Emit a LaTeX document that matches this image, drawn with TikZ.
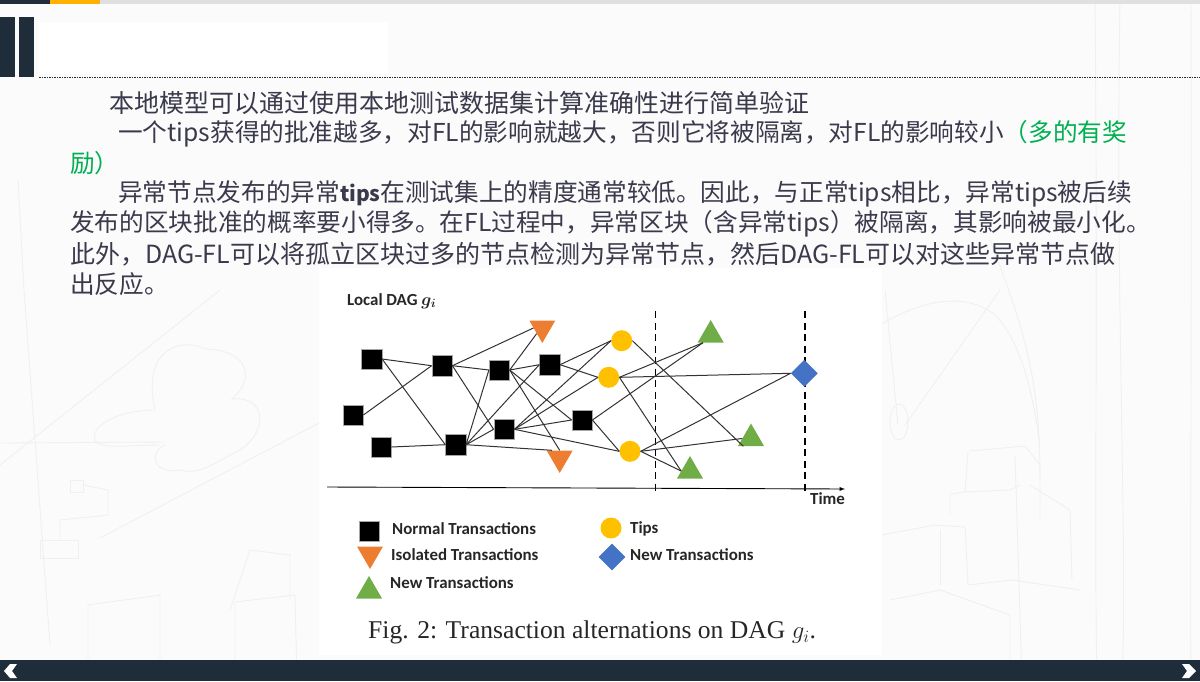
\documentclass[tikz,border=0pt]{standalone}
\usepackage{amsmath}
\usepackage{fontspec}
\setmainfont{Carlito}
\newfontfamily\cjkfont{Noto Sans CJK SC}
\newfontfamily\capfont{Liberation Serif}
\usepackage{tikz}
\usetikzlibrary{calc,arrows.meta,shapes.geometric}
\tikzset{>=latex}
\definecolor{barblue}{HTML}{1F2D3A}
\definecolor{baramber}{HTML}{FFB000}
\definecolor{bodyink}{HTML}{3A3A4C}
\definecolor{rewardgreen}{HTML}{00B050}
\definecolor{isoorange}{HTML}{ED7D31}
\definecolor{tipyellow}{HTML}{FFC000}
\definecolor{newgreen}{HTML}{70AD47}
\definecolor{newblue}{HTML}{4472C4}
\definecolor{sketchgrey}{HTML}{F0F0F0}
\tikzset{
normaltx/.style={rectangle, fill=black, draw=black!35, line width=0.3pt, minimum size=20.5pt, inner sep=0pt},
isotx/.style={regular polygon, regular polygon sides=3, shape border rotate=180, fill=isoorange, minimum size=30pt, inner sep=0pt},
newtx/.style={regular polygon, regular polygon sides=3, fill=newgreen, minimum size=30pt, inner sep=0pt},
tiptx/.style={circle, fill=tipyellow, minimum size=21pt, inner sep=0pt},
bluetx/.style={diamond, fill=newblue, minimum size=27pt, inner sep=0pt},
bodyline/.style={anchor=west, inner sep=0pt, text=bodyink, font=\cjkfont\fontsize{24.65}{28}\selectfont},
legendtext/.style={anchor=west, inner sep=0pt, text=black!85, font=\bfseries\fontsize{16.9}{18}\selectfont},
sketch/.style={draw=sketchgrey, line width=0.9pt, line cap=round},
}
\begin{document}
\begin{tikzpicture}[x=1pt, y=-1pt]
\useasboundingbox (0,0) rectangle (1200,681);
\fill[black!1.5] (0,0) rectangle (1200,681);

% faint sketch behind the slide
\draw[sketch] (18,180) -- (24,290) -- (50,645);
\draw[sketch] (0,443) -- (165,442);
\draw[sketch] (0,465) -- (220,290);
\draw[sketch] (100,538) -- (319,423);
\draw[sketch] (155,410) .. controls (140,340) and (190,340) .. (205,349) .. controls (250,350) and (255,380) .. (232,399) .. controls (265,395) and (270,430) .. (240,450) .. controls (210,465) and (200,475) .. (180,470) .. controls (150,475) and (150,450) .. (165,445);
\draw[sketch] (155,410) .. controls (120,410) and (90,425) .. (95,440) .. controls (100,450) and (130,445) .. (160,445);
\draw[sketch] (70,480) -- (70,492) -- (83,492) -- (83,480) -- cycle;
\draw[sketch] (83,485) -- (108,490) -- (108,515) -- (60,520) -- (60,540);
\draw[sketch] (40,540) -- (78,540) -- (78,558) -- (40,558) -- cycle;
\draw[sketch] (88,681) -- (88,605) -- (160,595) -- (160,681);
\draw[sketch] (235,681) -- (235,602) -- (295,595) -- (297,681);
\draw[sketch] (230,610) -- (250,550) -- (290,555) -- (290,600);
\draw[sketch] (880,325) .. controls (930,295) and (970,295) .. (995,315) .. controls (1025,345) and (1035,410) .. (1040,445);
\draw[sketch] (990,240) .. controls (1025,330) and (1040,380) .. (1040,480);
\draw[sketch] (1000,290) -- (905,425);
\draw[sketch] (885,290) -- (898,425);
\draw[sketch] (899,422) ellipse (9pt and 18pt);
\draw[sketch] (970,451) -- (1025,446) -- (1040,465) -- (1040,520);
\draw[sketch] (968,452) -- (965,492) -- (950,494) -- (950,515);
\draw[sketch] (965,492) -- (1010,490) -- (1020,485);
\draw[sketch] (1030,485) -- (1070,510) -- (1072,580);
\draw[sketch] (882,535) -- (935,525) -- (965,527) -- (968,585) -- (1012,580) -- (1080,590);
\draw[sketch] (940,530) -- (940,585);
\draw[sketch] (1015,455) -- (1022,681);
\draw[sketch] (890,600) -- (940,590) -- (1010,615) -- (1010,681);
\draw[sketch] (1095,0) .. controls (1098,300) and (1094,550) .. (1097,681);
\draw[sketch] (1120,0) .. controls (1115,300) and (1128,550) .. (1122,681);
\draw[sketch] (1191,0) .. controls (1192,300) and (1190,550) .. (1191,681);

% top and bottom bars
\fill[black!12] (0,0) rectangle (1200,3.5);
\fill[barblue] (0,0) rectangle (50,3.5);
\fill[baramber] (50,0) rectangle (100,3.5);
\fill[barblue] (0,17) rectangle (15,77);
\fill[barblue] (19,17) rectangle (34,77);
\fill[white] (39,22) rectangle (388,74);
\draw[barblue, dash pattern=on 1.5pt off 1pt, line width=0.7pt] (39,77.5) -- (1200,77.5);
\fill[barblue] (0,660) rectangle (1200,681);
\fill[white] (17,664) -- (10,664) -- (4,671) -- (10,678) -- (17,678) -- (12,671) -- cycle;
\fill[white] (1182,664) -- (1189,664) -- (1196,671) -- (1189,678) -- (1182,678) -- (1187,671) -- cycle;

% body text
\node[bodyline, font=\cjkfont\fontsize{25}{28}\selectfont] (line1) at (109,103) {本地模型可以通过使用本地测试数据集计算准确性进行简单验证};
\node[bodyline] (line2) at (118,134) {一个tips获得的批准越多，对FL的影响就越大，否则它将被隔离，对FL的影响较小\textcolor{rewardgreen}{（多的有奖}};
\node[bodyline, text=rewardgreen] (line3) at (70,163) {励）};
\node[bodyline] (line4) at (118,194) {异常节点发布的异常{\fontsize{21}{28}\selectfont\textbf{tips}}在测试集上的精度通常较低。因此，与正常tips相比，异常tips被后续};
\node[bodyline] (line5) at (70,224) {发布的区块批准的概率要小得多。在FL过程中，异常区块（含异常tips）被隔离，其影响被最小化。};
\node[bodyline, font=\cjkfont\fontsize{25}{28}\selectfont] (line6) at (70,254) {此外，DAG-FL可以将孤立区块过多的节点检测为异常节点，然后DAG-FL可以对这些异常节点做};
\node[bodyline] (line7) at (70,284) {出反应。};

% the figure
\fill[white] (319,268) rectangle (882,655);
\node[legendtext] (title) at (347,301) {Local DAG $\boldsymbol{g_i}$};

\coordinate (dash1a) at (655.7,311);
\coordinate (dash1b) at (655.7,495);
\coordinate (dash2a) at (805,311);
\coordinate (dash2b) at (805,495);
\draw[dash pattern=on 7pt off 4.5pt, line width=1.4pt] (dash1a) -- (dash1b);
\draw[dash pattern=on 7pt off 4.5pt, line width=1.4pt] (dash2a) -- (dash2b);

\node[normaltx] (a) at (371.7,359) {};
\node[normaltx] (b) at (353,415) {};
\node[normaltx] (c) at (381,447) {};
\node[normaltx] (d) at (442,365.7) {};
\node[normaltx] (e) at (455.7,444.7) {};
\node[normaltx] (f) at (499.3,370) {};
\node[normaltx] (g) at (504,429.3) {};
\node[normaltx] (h) at (549.7,364.7) {};
\node[normaltx] (i) at (582,420) {};
\node[isotx] (j) at (542.3,328) {};
\node[isotx] (k) at (559.7,458) {};
\node[tiptx] (t1) at (621.7,340.7) {};
\node[tiptx] (t2) at (608.7,377.3) {};
\node[tiptx] (t3) at (630,451.3) {};
\node[newtx] (n1) at (710.7,335) {};
\node[newtx] (n2) at (751,438.5) {};
\node[newtx] (n3) at (690,471) {};
\node[bluetx] (m) at (804.3,373.3) {};

\coordinate (axisl) at (327,487);
\coordinate (axisr) at (845,489);
\draw[->, line width=0.9pt] (axisl) -- (axisr);
\node[legendtext] (time) at (810,499) {Time};

\path[line width=1pt, draw=black!80]
(a.east) edge (d.west)
(a.east) edge (e.west)
(b.east) edge (d.west)
(c.east) edge (e.west)
(d.east) edge (f.west)
(d.east) edge (j.west)
(d.east) edge (g.west)
(e.east) edge (f.west)
(e.east) edge (h.west)
(e.east) edge (g.west)
(e.east) edge (k.north west)
(f.east) edge (h.west)
(f.east) edge (j.south west)
(f.east) edge (i.west)
(f.east) edge (k.north)
(g.east) edge (t1.west)
(g.east) edge (t2.west)
(g.east) edge (i.west)
(g.east) edge (t3.west)
(h.east) edge (t1.west)
(h.east) edge (t2.west)
(i.east) edge (n1.south west)
(i.east) edge (t3.west)
(t1.east) edge (n2.south west)
(t2.east) edge (n1.south west)
(t2.east) edge (m.west)
(t2.east) edge (n3.west)
(t3.east) edge (m.west)
(t3.east) edge (n2.west)
(t3.east) edge (n3.west)
;

% legend
\node[normaltx] (leg1) at (369,531) {};
\node[isotx] (leg2) at (370,554) {};
\node[newtx] (leg3) at (369,591) {};
\node[tiptx] (leg4) at (611,528) {};
\node[bluetx] (leg5) at (612,557) {};
\node[legendtext] (txt1) at (392,528.5) {Normal Transactions};
\node[legendtext] (txt2) at (391,554.5) {Isolated Transactions};
\node[legendtext] (txt3) at (390,582.5) {New Transactions};
\node[legendtext] (txt4) at (630,528.5) {Tips};
\node[legendtext] (txt5) at (630,554.5) {New Transactions};

\node[anchor=west, inner sep=0pt, font=\capfont\fontsize{25.6}{28}\selectfont, text=black!85] (cap) at (368,632.5) {Fig. 2: Transaction alternations on DAG $g_i$.};
\end{tikzpicture}
\end{document}
